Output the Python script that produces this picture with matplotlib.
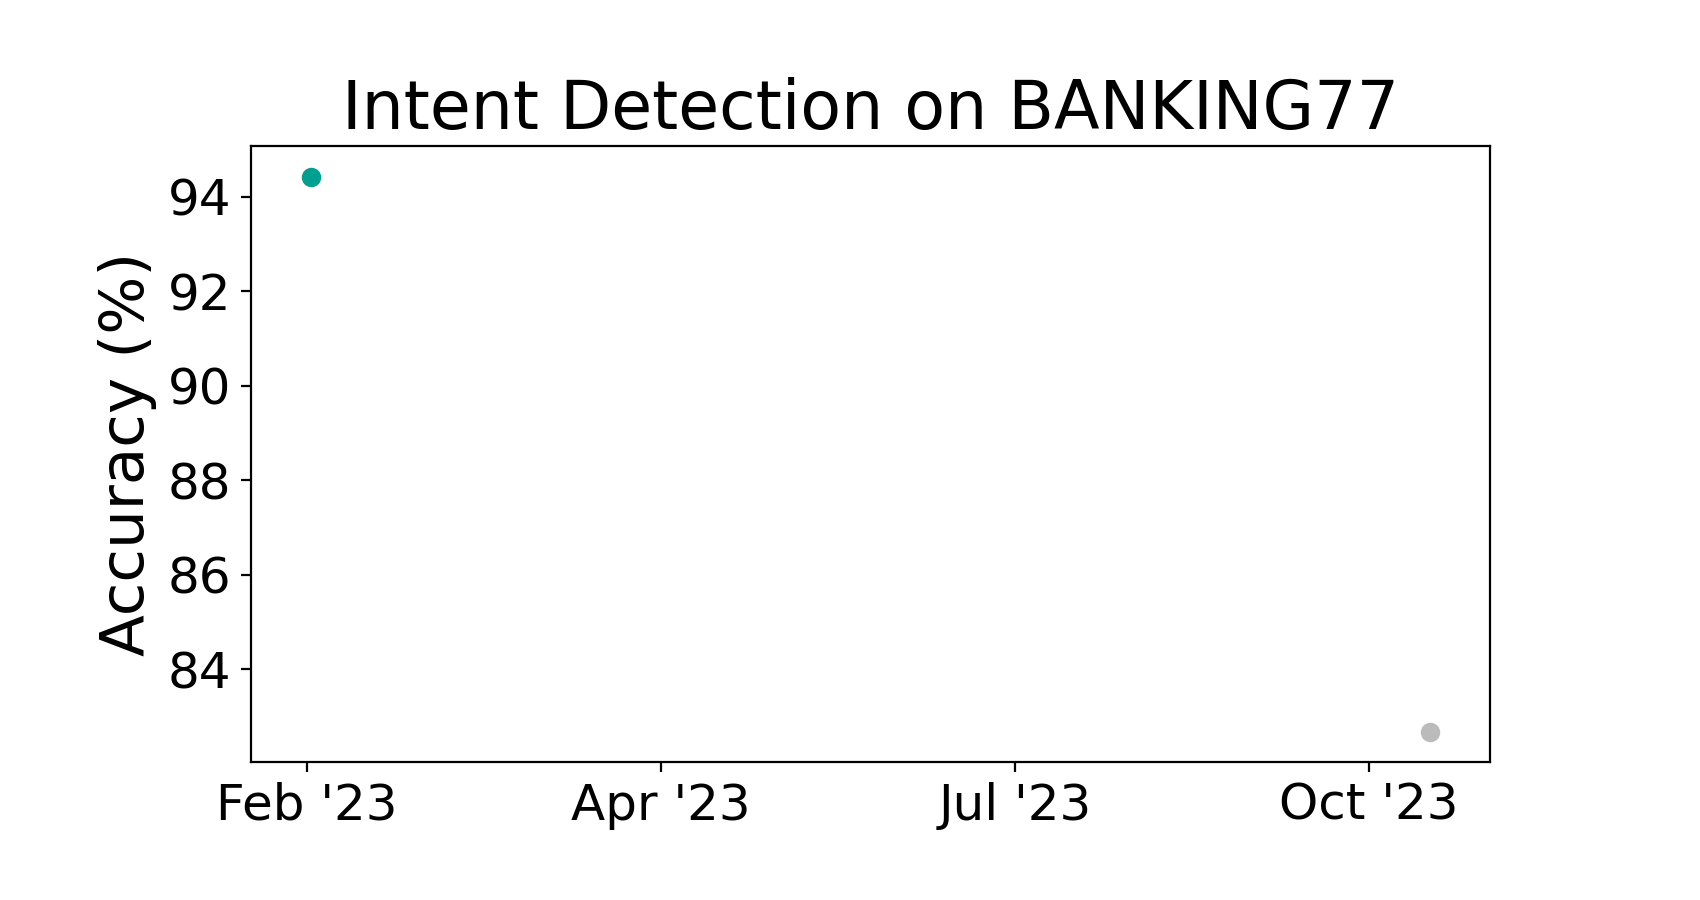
import matplotlib
matplotlib.use("Agg")
import matplotlib.pyplot as plt
import matplotlib.dates as mdates
import numpy as np

# data
dates = np.array(["2023-02-02", "2023-10-19"], dtype="datetime64[D]")
accuracy = [94.41, 82.68]
colors = ["#00a090", "#bbbbbb"]
tick_dates = np.array(["2023-02-01", "2023-04-24", "2023-07-15", "2023-10-05"], dtype="datetime64[D]")

fig = plt.figure(figsize=(8.5, 4.5), dpi=200)
ax = fig.add_axes([0.1475, 0.153, 0.729, 0.685])

for d, a, c in zip(dates, accuracy, colors):
    ax.plot([d], [a], "o", color=c)

ax.set_xticks(tick_dates)
ax.xaxis.set_major_formatter(mdates.DateFormatter("%b '%y"))
ax.set_xlim(np.datetime64("2023-01-19"), np.datetime64("2023-11-02"))
ax.set_ylim(82.03, 95.08)
ax.set_yticks([84, 86, 88, 90, 92, 94])
ax.tick_params(labelsize=18)
ax.set_ylabel("Accuracy (%)", fontsize=22)
ax.set_title("Intent Detection on BANKING77", fontsize=24)

fig.savefig("out.png", dpi=200)
